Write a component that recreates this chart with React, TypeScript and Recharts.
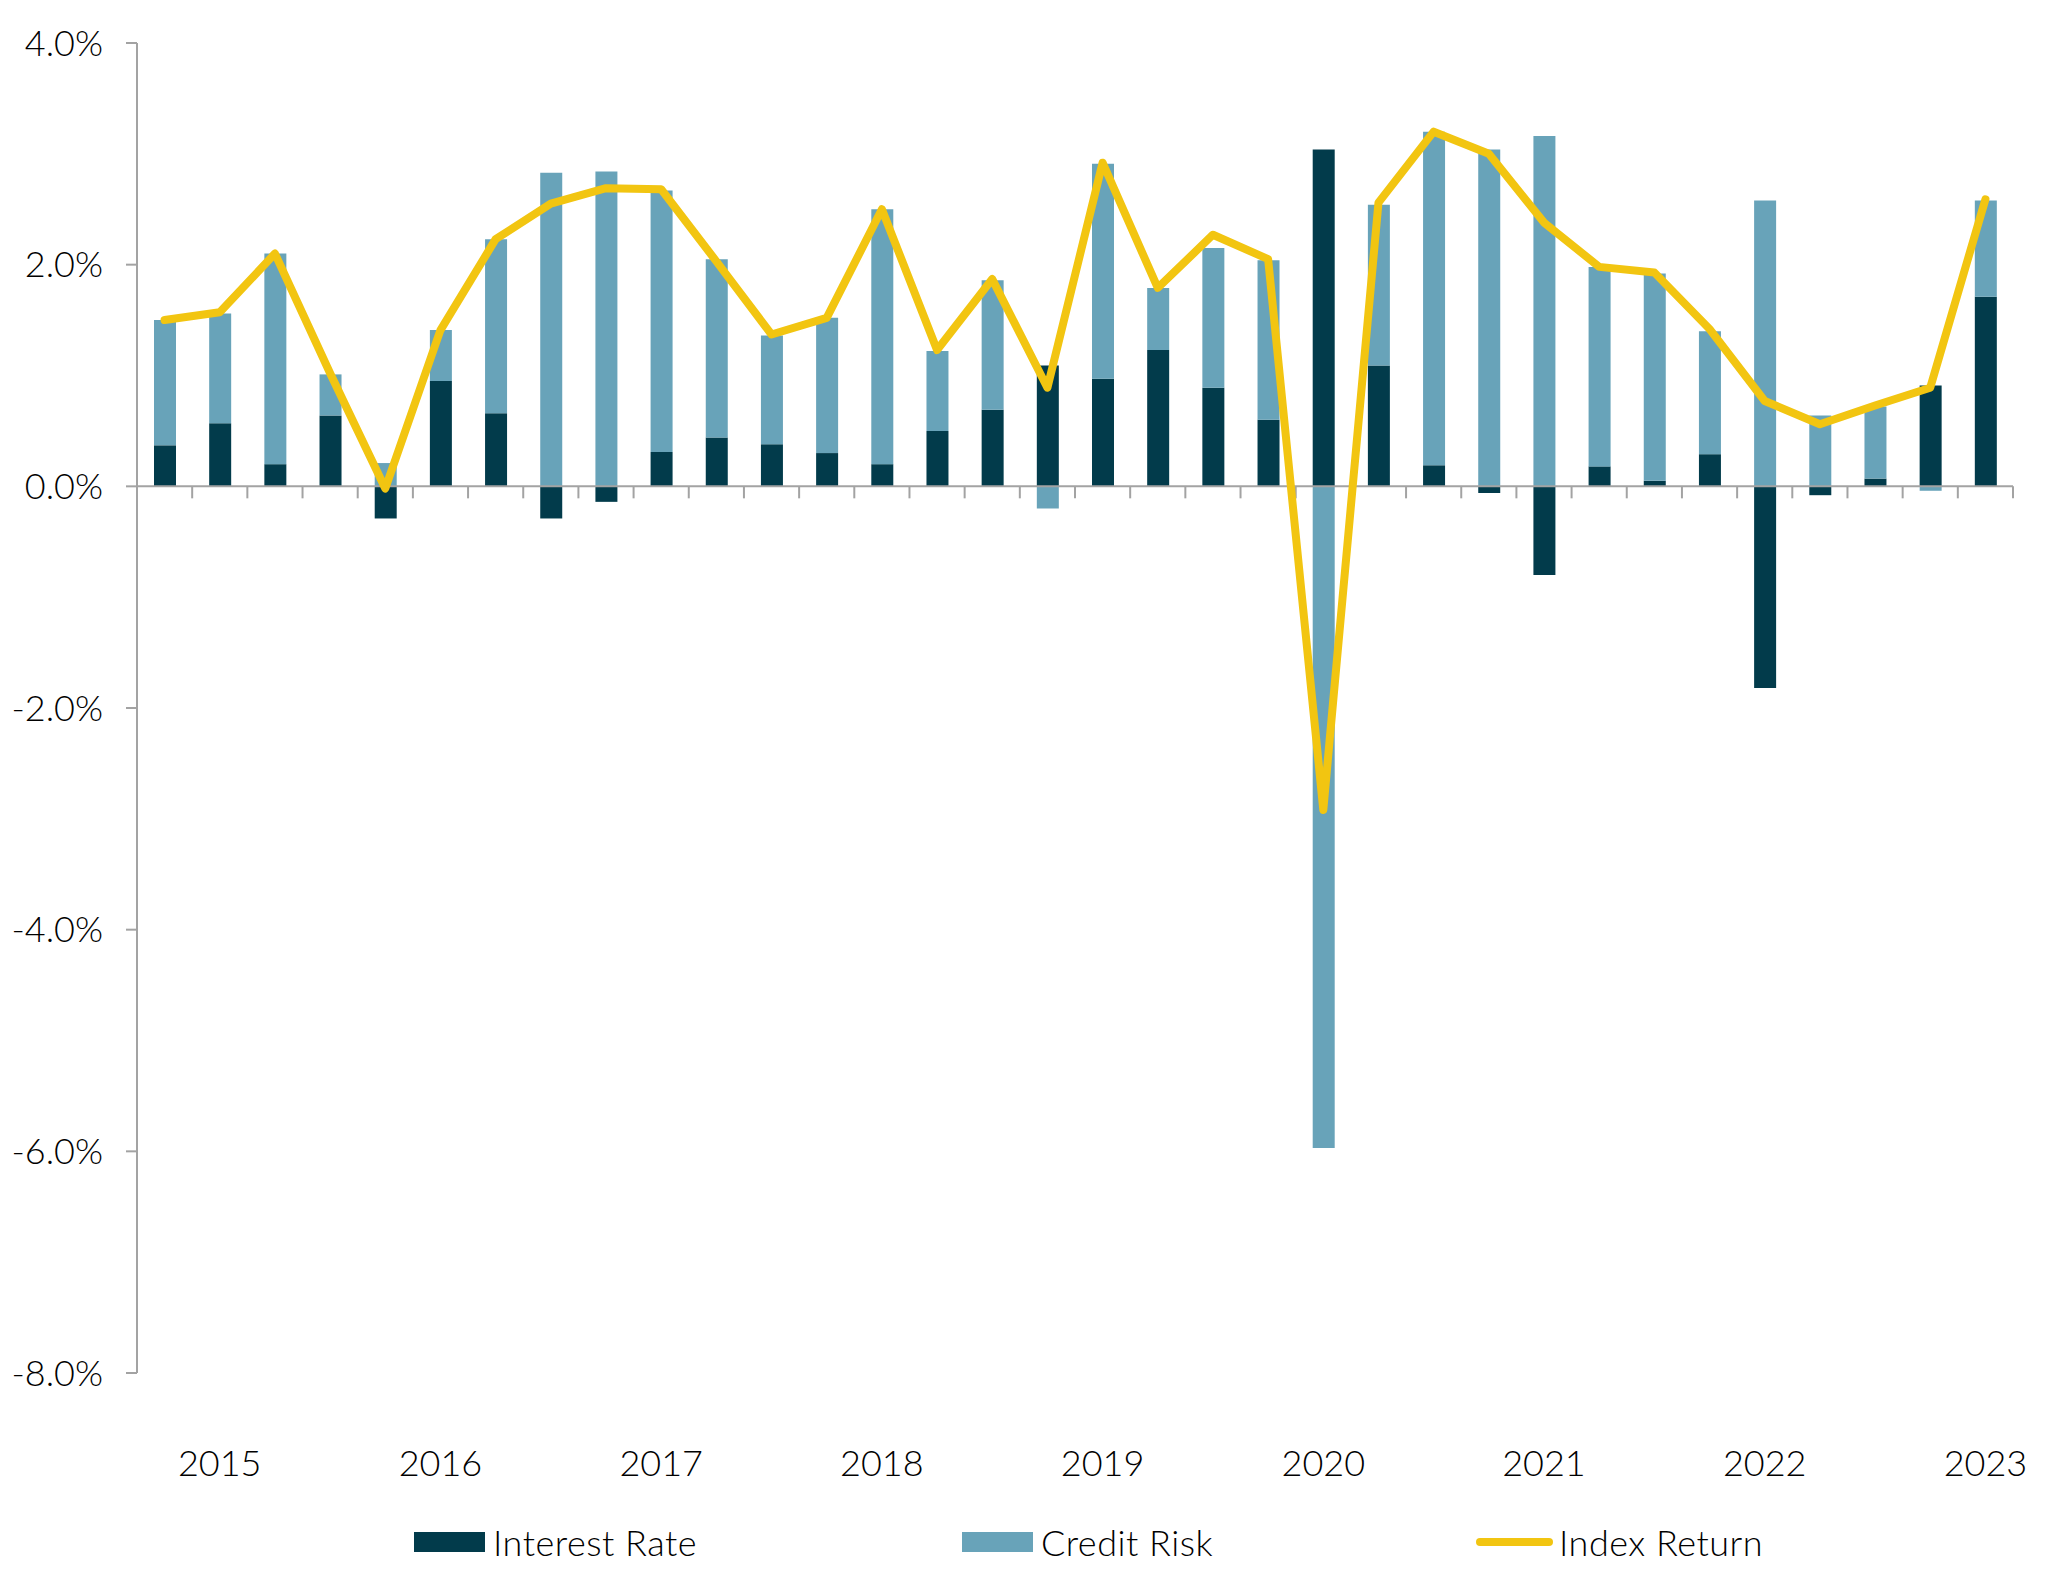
import React from "react";
import { ComposedChart, Bar, Line, XAxis, YAxis, ReferenceLine, Legend } from "recharts";

// quarterly return attribution, Q4 2014 .. Q1 2023 (values in %)
const quarters = [
  "Q4 2014",
  "Q1 2015", "Q2 2015", "Q3 2015", "Q4 2015",
  "Q1 2016", "Q2 2016", "Q3 2016", "Q4 2016",
  "Q1 2017", "Q2 2017", "Q3 2017", "Q4 2017",
  "Q1 2018", "Q2 2018", "Q3 2018", "Q4 2018",
  "Q1 2019", "Q2 2019", "Q3 2019", "Q4 2019",
  "Q1 2020", "Q2 2020", "Q3 2020", "Q4 2020",
  "Q1 2021", "Q2 2021", "Q3 2021", "Q4 2021",
  "Q1 2022", "Q2 2022", "Q3 2022", "Q4 2022",
  "Q1 2023",
];

const interestRate = [
  0.37,
  0.57, 0.2, 0.64, -0.29,
  0.95, 0.66, -0.29, -0.14,
  0.31, 0.44, 0.38, 0.3,
  0.2, 0.5, 0.69, 1.09,
  0.97, 1.23, 0.89, 0.6,
  3.04, 1.09, 0.19, -0.06,
  -0.8, 0.18, 0.05, 0.29,
  -1.82, -0.08, 0.07, 0.91,
  1.71,
];

const creditRisk = [
  1.13,
  0.99, 1.9, 0.37, 0.21,
  0.46, 1.57, 2.83, 2.84,
  2.36, 1.61, 0.98, 1.22,
  2.3, 0.72, 1.17, -0.2,
  1.94, 0.56, 1.26, 1.44,
  -5.97, 1.45, 3.01, 3.04,
  3.16, 1.8, 1.87, 1.11,
  2.58, 0.64, 0.65, -0.04,
  0.87,
];

const indexReturn = [
  1.5,
  1.57, 2.1, 1.02, -0.02,
  1.41, 2.23, 2.55, 2.69,
  2.68, 2.03, 1.37, 1.52,
  2.5, 1.23, 1.87, 0.89,
  2.92, 1.79, 2.27, 2.05,
  -2.92, 2.56, 3.2, 3.0,
  2.38, 1.98, 1.93, 1.42,
  0.77, 0.56, 0.73, 0.89,
  2.59,
];

const yTicks = [-8, -6, -4, -2, 0, 2, 4];
const legendOrder = ["Interest Rate", "Credit Risk", "Index Return"];

const data = quarters.map((quarter, i) => ({
  quarter,
  interestRate: interestRate[i],
  creditRisk: creditRisk[i],
  indexReturn: indexReturn[i],
}));

const FONT = "Lato, 'Open Sans', sans-serif";
const FONT_SIZE = 36;
const FONT_WEIGHT = 300;
const DARK = "#023b4b";
const LIGHT = "#68a3b9";
const YELLOW = "#f2c511";
const AXIS = "#a3a3a3";
const TEXT = "#000";

// only the first quarter of each year gets a label
const YearTick = (props: any) => {
  const { x, y, payload } = props;
  const [q, year] = String(payload.value).split(" ");
  if (q !== "Q1") return <g />;
  return (
    <text
      x={x}
      y={y}
      dy="0.35em"
      textAnchor="middle"
      fontSize={FONT_SIZE}
      fontWeight={FONT_WEIGHT}
      fill={TEXT}
      fontFamily={FONT}
    >
      {year}
    </text>
  );
};

// small tick marks hanging under the zero line, at the category boundaries
const ZeroTicks = (props: any) => {
  const { viewBox, count } = props;
  if (!viewBox) return null;
  const { x, y, width } = viewBox;
  const step = width / count;
  return (
    <g>
      {Array.from({ length: count }, (_, i) => (
        <line
          key={i}
          x1={x + (i + 1) * step}
          x2={x + (i + 1) * step}
          y1={y}
          y2={y + 12}
          stroke={AXIS}
          strokeWidth={2}
        />
      ))}
    </g>
  );
};

const legendWidths = [548, 514, 400];

const LegendContent = (props: any) => {
  const { payload = [] } = props;
  const items = [...payload].sort(
    (a: any, b: any) => legendOrder.indexOf(a.value) - legendOrder.indexOf(b.value)
  );
  return (
    <div
      style={{
        display: "flex",
        alignItems: "center",
        height: 40,
        paddingLeft: 414,
        fontFamily: FONT,
        fontSize: FONT_SIZE,
        fontWeight: FONT_WEIGHT,
        color: TEXT,
        letterSpacing: 0.5,
      }}
    >
      {items.map((entry: any, i: number) => (
        <div key={entry.value} style={{ width: legendWidths[i], display: "flex", alignItems: "center" }}>
          {entry.type === "line" ? (
            <span
              style={{
                display: "inline-block",
                width: 77,
                height: 8,
                borderRadius: 4,
                background: entry.color,
                marginRight: 6,
              }}
            />
          ) : (
            <span
              style={{
                display: "inline-block",
                width: 71,
                height: 20,
                background: entry.color,
                marginRight: 8,
              }}
            />
          )}
          <span>{entry.value}</span>
        </div>
      ))}
    </div>
  );
};

const App: React.FC = () => {
  return (
    <div style={{ position: "absolute", left: 0, top: 0, background: "#fff", fontFamily: FONT }}>
      <ComposedChart
        width={2048}
        height={1569}
        data={data}
        stackOffset="sign"
        margin={{ top: 43, right: 35, left: 0, bottom: 7 }}
      >
        <XAxis
          dataKey="quarter"
          interval={0}
          axisLine={false}
          tickLine={false}
          tickSize={0}
          tickMargin={90}
          height={149}
          tick={<YearTick />}
        />
        <YAxis
          width={137}
          domain={[-8, 4]}
          ticks={yTicks}
          interval={0}
          allowDataOverflow
          tickFormatter={(v: number) => `${v.toFixed(1)}%`}
          axisLine={{ stroke: AXIS, strokeWidth: 2 }}
          tickLine={{ stroke: AXIS, strokeWidth: 2 }}
          tickSize={11}
          tickMargin={23}
          tick={{ fontSize: FONT_SIZE, fontWeight: FONT_WEIGHT, fill: TEXT, fontFamily: FONT }}
        />
        <Legend verticalAlign="bottom" content={<LegendContent />} />
        <Bar dataKey="interestRate" name="Interest Rate" stackId="a" fill={DARK} barSize={22} isAnimationActive={false} />
        <Bar dataKey="creditRisk" name="Credit Risk" stackId="a" fill={LIGHT} barSize={22} isAnimationActive={false} />
        <ReferenceLine
          y={0}
          stroke={AXIS}
          strokeWidth={2}
          label={<ZeroTicks count={quarters.length} />}
        />
        <Line
          type="linear"
          dataKey="indexReturn"
          name="Index Return"
          stroke={YELLOW}
          strokeWidth={8}
          strokeLinejoin="round"
          strokeLinecap="round"
          dot={false}
          legendType="line"
          isAnimationActive={false}
        />
      </ComposedChart>
    </div>
  );
};

export default App;
